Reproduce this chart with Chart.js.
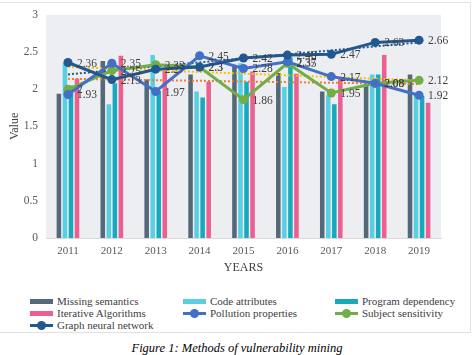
<!DOCTYPE html>
<html>
<head>
<meta charset="utf-8">
<script src="https://cdn.jsdelivr.net/npm/chart.js@4/dist/chart.umd.min.js"></script>
<style>
    html, body { margin: 0; padding: 0; background: #ffffff; }
    #page { position: relative; width: 474px; height: 355px; overflow: hidden; font-family: "Liberation Serif", serif; }
    #box { position: absolute; left: 0; top: 2px; width: 470px; height: 329px; border: 1px solid #e2e2e2; border-left: none; background: #fff; }
    #chartWrap { position: absolute; left: 0; top: 0; width: 474px; height: 280px; }
    #legend { position: absolute; left: 30px; top: 295px; display: grid; grid-template-columns: 153px 152px 140px; grid-auto-rows: 12px; font-size: 11px; color: #404040; }
    #legend .item { display: flex; align-items: center; white-space: nowrap; }
    #legend .sw { position: relative; width: 23px; height: 12px; margin-right: 4px; flex: none; }
    #caption { position: absolute; left: 0; width: 474px; top: 341px; text-align: center; font-style: italic; font-size: 12.5px; color: #000; }
</style>
</head>
<body>
<div id="page">
    <div id="box"></div>
    <div id="chartWrap"><canvas id="chart1"></canvas></div>
    <div id="legend"></div>
    <div id="caption">Figure 1: Methods of vulnerability mining</div>
</div>
<script>
    // Data
    var years = ["2011", "2012", "2013", "2014", "2015", "2016", "2017", "2018", "2019"];
    var yTicks = [0, 0.5, 1, 1.5, 2, 2.5, 3];

    var missingSemantics = [1.94, 2.38, 2.13, 2.2, 2.32, 2.22, 1.97, 2.07, 2.2];
    var codeAttributes = [2.35, 1.8, 2.46, 1.97, 2.35, 2.03, 1.92, 2.2, 1.94];
    var programDependency = [2.05, 2.08, 1.98, 1.89, 2.1, 2.43, 1.8, 2.2, 1.91];
    var iterativeAlgorithms = [2.14, 2.45, 2.25, 2.1, 2.24, 2.21, 2.14, 2.46, 1.82];

    var pollutionProperties = [1.93, 2.35, 1.97, 2.45, 2.28, 2.37, 2.17, 2.08, 1.92];
    var subjectSensitivity = [2, 2.25, 2.33, 2.3, 1.86, 2.35, 1.95, 2.08, 2.12];
    var graphNeuralNetwork = [2.36, 2.13, 2.27, 2.3, 2.42, 2.46, 2.47, 2.63, 2.66];

    // dotted trend lines, only the end points are read
    var trendNavy = [2.2, null, null, null, null, null, null, null, 2.63];
    var trendGold = [2.3, null, null, null, null, null, null, null, 2.12];
    var trendOrange = [2.14, null, null, null, null, null, null, null, 2.07];

    var serif = "'Liberation Serif', 'Times New Roman', serif";
    var textGrey = "#595959";

    function barSet(label, data, color) {
        return {
            type: "bar",
            label: label,
            data: data,
            backgroundColor: color,
            borderWidth: 0,
            barPercentage: 0.75,
            categoryPercentage: 0.55,
            order: 3
        };
    }

    function lineSet(label, data, color) {
        return {
            type: "line",
            label: label,
            data: data,
            borderColor: color,
            backgroundColor: color,
            borderWidth: 3,
            pointRadius: 4.5,
            pointBorderWidth: 0,
            pointBackgroundColor: color,
            fill: false,
            tension: 0,
            showValues: true,
            order: 1
        };
    }

    function trendSet(data, color) {
        return {
            type: "line",
            label: "",
            data: data,
            borderColor: color,
            borderWidth: 2,
            borderDash: [2, 2],
            pointRadius: 0,
            fill: false,
            spanGaps: true,
            isTrend: true,
            order: 2
        };
    }

    // plot area fill
    var plotBackground = {
        id: "plotBackground",
        beforeDraw: function (chart) {
            var a = chart.chartArea;
            var ctx = chart.ctx;
            ctx.save();
            ctx.fillStyle = "#eceef1";
            ctx.fillRect(a.left, a.top, a.right - a.left, a.bottom - a.top);
            ctx.restore();
        }
    };

    // value labels to the right of the line points
    var pointLabels = {
        id: "pointLabels",
        afterDatasetsDraw: function (chart) {
            var ctx = chart.ctx;
            ctx.save();
            ctx.font = "11.5px " + serif;
            ctx.fillStyle = "#404040";
            ctx.textAlign = "left";
            ctx.textBaseline = "middle";
            chart.data.datasets.forEach(function (ds, i) {
                if (!ds.showValues) return;
                chart.getDatasetMeta(i).data.forEach(function (pt, j) {
                    ctx.fillText(String(ds.data[j]), pt.x + 9, pt.y + 1);
                });
            });
            ctx.restore();
        }
    };

    var ctx1 = document.getElementById("chart1").getContext("2d");

    var chart = new Chart(ctx1, {
        data: {
            labels: years,
            datasets: [
                lineSet("Graph neural network", graphNeuralNetwork, "#22578f"),
                lineSet("Pollution properties", pollutionProperties, "#4270c6"),
                lineSet("Subject sensitivity", subjectSensitivity, "#72ad45"),
                trendSet(trendNavy, "#22578f"),
                trendSet(trendGold, "#ffc000"),
                trendSet(trendOrange, "#ee7d31"),
                barSet("Missing semantics", missingSemantics, "#536878"),
                barSet("Code attributes", codeAttributes, "#58cfe3"),
                barSet("Program dependency", programDependency, "#17a9be"),
                barSet("Iterative Algorithms", iterativeAlgorithms, "#ec5f8f")
            ]
        },
        options: {
            responsive: true,
            maintainAspectRatio: false,
            animation: false,
            layout: {
                padding: { top: 13, right: 33, left: 0, bottom: 0 }
            },
            plugins: {
                legend: { display: false },
                tooltip: { enabled: false }
            },
            scales: {
                x: {
                    grid: { display: false, drawTicks: false },
                    border: { display: true, color: "#d9d9d9", width: 1 },
                    ticks: {
                        color: textGrey,
                        font: { family: serif, size: 11 },
                        padding: 7,
                        maxRotation: 0
                    },
                    title: {
                        display: true,
                        text: "YEARS",
                        color: "#404040",
                        font: { family: serif, size: 12 },
                        padding: { top: 5, bottom: 5 }
                    },
                    afterFit: function (scale) {
                        scale.height = 42;
                    }
                },
                y: {
                    min: 0,
                    max: 3,
                    afterBuildTicks: function (scale) {
                        scale.ticks = yTicks.map(function (v) { return { value: v }; });
                    },
                    grid: { display: false, drawTicks: false },
                    border: { display: false },
                    ticks: {
                        color: textGrey,
                        font: { family: serif, size: 11.5 },
                        padding: 8,
                        callback: function (value) {
                            return String(value);
                        }
                    },
                    title: {
                        display: true,
                        text: "Value",
                        color: "#404040",
                        font: { family: serif, size: 12 },
                        padding: { top: 8, bottom: 0 }
                    },
                    afterFit: function (scale) {
                        scale.width = 46;
                    }
                }
            }
        },
        plugins: [plotBackground, pointLabels]
    });

    // HTML legend, three columns like the original
    var legendOrder = ["Missing semantics", "Code attributes", "Program dependency",
        "Iterative Algorithms", "Pollution properties", "Subject sensitivity",
        "Graph neural network"];
    var legendEl = document.getElementById("legend");
    legendOrder.forEach(function (name) {
        var ds = chart.data.datasets.find(function (d) { return d.label === name; });
        var item = document.createElement("div");
        item.className = "item";
        var sw = document.createElement("span");
        sw.className = "sw";
        if (ds.type === "bar") {
            sw.innerHTML = '<span style="position:absolute;left:0;top:4px;width:23px;height:5px;background:' + ds.backgroundColor + '"></span>';
        } else {
            sw.innerHTML = '<span style="position:absolute;left:0;top:5px;width:23px;height:3px;background:' + ds.borderColor + '"></span>' +
                '<span style="position:absolute;left:7px;top:2px;width:9px;height:9px;border-radius:50%;background:' + ds.borderColor + '"></span>';
        }
        item.appendChild(sw);
        item.appendChild(document.createTextNode(name));
        legendEl.appendChild(item);
    });
</script>
</body>
</html>
